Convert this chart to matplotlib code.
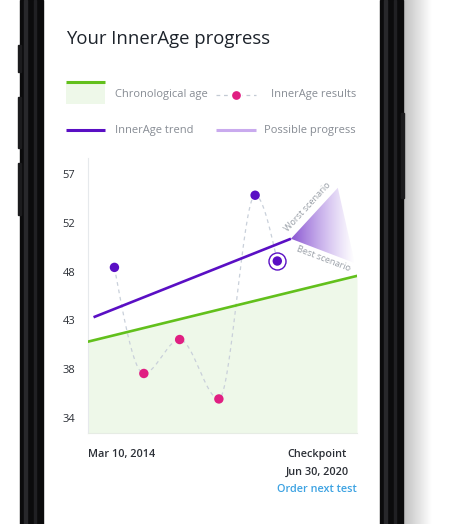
import numpy as np
import matplotlib.pyplot as plt
from matplotlib.patches import Rectangle, Polygon
from matplotlib.colors import LinearSegmentedColormap

# ----------------------------------------------------------
# DATA
# ----------------------------------------------------------
test_years = [2014.81, 2015.50, 2016.34, 2017.26, 2018.11, 2018.63]
inner_age = [48.2, 38.2, 41.4, 35.8, 55.0, 48.8]

chrono_years = [2014.19, 2020.50]
chrono_age = [41.2, 47.4]

trend_years = [2014.32, 2018.95]
trend_age = [43.5, 50.9]

worst_case = (2020.05, 55.7)
best_case = (2020.45, 48.6)

ytick_vals = np.linspace(34, 57, 6)
ytick_labels = ["34", "38", "43", "48", "52", "57"]

start_label = "Mar 10, 2014"
end_labels = ["Checkpoint", "Jun 30, 2020"]
link_label = "Order next test"

GREEN = "#62c01c"
GREEN_FILL = "#eef8e9"
PURPLE = "#5a0fc4"
PINK = "#e01f82"
LIGHT_PURPLE = "#c9aaee"
GRAY_TXT = "#878c94"
DARK_TXT = "#2b2f36"

plt.rcParams["font.family"] = ["Open Sans", "DejaVu Sans"]

W, H = 450, 524
fig = plt.figure(figsize=(4.5, 5.24), dpi=100)
fig.patch.set_facecolor("white")


def fax(x0, y0, x1, y1):
    # pixel box (top-left origin) -> axes rect
    return [x0 / W, 1 - y1 / H, (x1 - x0) / W, (y1 - y0) / H]


# ----------------------------------------------------------
# OVERLAY (phone, title, legend, footer)
# ----------------------------------------------------------
deco = fig.add_axes([0, 0, 1, 1])
deco.set_xlim(0, W)
deco.set_ylim(H, 0)
deco.axis("off")

# right-side shadow
sh = np.linspace(0.74, 1.0, 64).reshape(1, -1)
deco.imshow(sh, extent=(402, 432, H, 0), cmap="gray", vmin=0, vmax=1,
            aspect="auto", zorder=0)
# bezels
for x0 in (20, 380):
    deco.add_patch(Rectangle((x0, 0), 23, H, color="#0b0b0c", zorder=1))
    deco.add_patch(Rectangle((x0 + 4, 0), 3, H, color="#28282b", zorder=1))
    deco.add_patch(Rectangle((x0 + 14, 0), 2, H, color="#202023", zorder=1))
for y0, y1 in [(45, 72), (97, 148), (163, 215)]:
    deco.add_patch(Rectangle((18, y0), 3, y1 - y0, color="#1b1b1d", zorder=2))
deco.add_patch(Rectangle((401, 113), 3, 85, color="#1b1b1d", zorder=2))

deco.text(66, 39, "Your InnerAge progress", fontsize=13.3, color="#1d232b",
          va="center", ha="left")

# legend row 1
deco.add_patch(Rectangle((66, 83), 39, 21, color=GREEN_FILL, lw=0))
deco.plot([66, 105], [82, 82], color=GREEN, lw=2.2, solid_capstyle="butt")
deco.text(115, 95, "Chronological age", fontsize=8.0, color=GRAY_TXT, va="center")
deco.plot([216, 256], [95, 95], color="#c3cad4", lw=0.9, ls=(0, (3, 3)))
deco.plot([236], [95], "o", ms=7.5, color=PINK, mec="white", mew=1.2)
deco.text(356, 95, "InnerAge results", fontsize=8.0, color=GRAY_TXT,
          va="center", ha="right")
# legend row 2
deco.plot([66, 105], [130, 130], color=PURPLE, lw=2.2, solid_capstyle="butt")
deco.text(115, 130, "InnerAge trend", fontsize=8.0, color=GRAY_TXT, va="center")
deco.plot([216, 256], [130, 130], color=LIGHT_PURPLE, lw=2.2,
          solid_capstyle="butt")
deco.text(356, 130, "Possible progress", fontsize=8.0, color=GRAY_TXT,
          va="center", ha="right")

# footer
deco.text(88, 454, start_label, fontsize=7.8, color=DARK_TXT,
          fontweight="semibold", va="center", ha="left")
deco.text(317, 454, end_labels[0], fontsize=7.8, color=DARK_TXT,
          fontweight="semibold", va="center", ha="center")
deco.text(317, 472, end_labels[1], fontsize=7.8, color=DARK_TXT,
          fontweight="semibold", va="center", ha="center")
deco.text(317, 490, link_label, fontsize=7.8, color="#3ca2e2",
          fontweight="semibold", va="center", ha="center")

# ----------------------------------------------------------
# CHART
# ----------------------------------------------------------
ax = fig.add_axes(fax(88, 158, 357, 433))
ax.patch.set_alpha(0)
ax.set_xlim(2014.19, 2020.50)
ax.set_ylim(32.59, 58.51)
for s in ("top", "right"):
    ax.spines[s].set_visible(False)
ax.spines["left"].set_color("#e6e9ec")
ax.spines["bottom"].set_color("#e6ece4")
ax.spines["left"].set_linewidth(0.8)
ax.spines["bottom"].set_linewidth(0.8)
ax.set_xticks([])
ax.set_yticks(ytick_vals)
ax.set_yticklabels(ytick_labels)
ax.tick_params(axis="y", length=0, pad=9, labelsize=8.0, labelcolor=DARK_TXT)

# chronological age
ax.fill_between(chrono_years, chrono_age, 32.59, color=GREEN_FILL, lw=0, zorder=1)
ax.plot(chrono_years, chrono_age, color=GREEN, lw=1.9, zorder=3)


# dashed monotone curve through results
def monotone_curve(xs, ys, n=60):
    xs = np.asarray(xs, float)
    ys = np.asarray(ys, float)
    h = np.diff(xs)
    s = np.diff(ys) / h
    t = np.zeros(len(xs))
    for i in range(1, len(xs) - 1):
        p = (s[i - 1] * h[i] + s[i] * h[i - 1]) / (h[i - 1] + h[i])
        t[i] = (np.sign(s[i - 1]) + np.sign(s[i])) * min(abs(s[i - 1]), abs(s[i]), 0.5 * abs(p))
    t[0] = (3 * s[0] - t[1]) / 2
    t[-1] = (3 * s[-1] - t[-2]) / 2
    cx, cy = [], []
    for i in range(len(h)):
        u = np.linspace(0, 1, n)
        h00 = 2 * u**3 - 3 * u**2 + 1
        h10 = u**3 - 2 * u**2 + u
        h01 = -2 * u**3 + 3 * u**2
        h11 = u**3 - u**2
        cx.extend(xs[i] + u * h[i])
        cy.extend(h00 * ys[i] + h10 * h[i] * t[i] + h01 * ys[i + 1] + h11 * h[i] * t[i + 1])
    return np.array(cx), np.array(cy)


cx, cy = monotone_curve(test_years, inner_age)
ax.plot(cx, cy, color="#c9d0da", lw=0.9, ls=(0, (3, 3)), zorder=2)

# possible progress cone
apex = (trend_years[1], trend_age[1])
cone = Polygon([apex, worst_case, best_case], closed=True, fc="none", ec="none")
ax.add_patch(cone)
cmap = LinearSegmentedColormap.from_list(
    "cone", [(0.46, 0.22, 0.79, 0.85), (0.62, 0.45, 0.88, 0.0)])
grad = np.linspace(0, 1, 100).reshape(1, -1)
im = ax.imshow(grad, extent=(apex[0], best_case[0], best_case[1], worst_case[1]),
               cmap=cmap, aspect="auto", zorder=2, origin="lower")
im.set_clip_path(cone)

# trend line
ax.plot(trend_years, trend_age, color=PURPLE, lw=1.9, zorder=4,
        solid_capstyle="butt")

# result dots: purple above chronological age, pink below
chrono_at = np.interp(test_years, chrono_years, chrono_age)
dot_colors = [PURPLE if a > c else PINK for a, c in zip(inner_age, chrono_at)]
ax.scatter(test_years[-1:], inner_age[-1:], s=150, facecolor="white",
           edgecolor=PURPLE, linewidth=1.0, zorder=5)
ax.scatter(test_years, inner_age, s=46, c=dot_colors, edgecolor="none", zorder=6)


# scenario labels
def disp_angle(p0, p1):
    a = ax.transData.transform(p0)
    b = ax.transData.transform(p1)
    return np.degrees(np.arctan2(b[1] - a[1], b[0] - a[0]))


ang_w = disp_angle(apex, worst_case)
ang_b = disp_angle(apex, best_case)
mid_w = ((apex[0] + worst_case[0]) / 2, (apex[1] + worst_case[1]) / 2)
mid_b = ((apex[0] + best_case[0]) / 2, (apex[1] + best_case[1]) / 2)
ax.annotate("Worst scenario", mid_w, xytext=(-2.5, 2.5), textcoords="offset points",
            rotation=ang_w, rotation_mode="anchor", ha="center", va="bottom",
            fontsize=6.6, color="#9aa0a8", zorder=7)
ax.annotate("Best scenario", mid_b, xytext=(1.5, -3), textcoords="offset points",
            rotation=ang_b, rotation_mode="anchor", ha="center", va="top",
            fontsize=6.6, color="#9aa0a8", zorder=7)

fig.savefig("out.png", dpi=100)
